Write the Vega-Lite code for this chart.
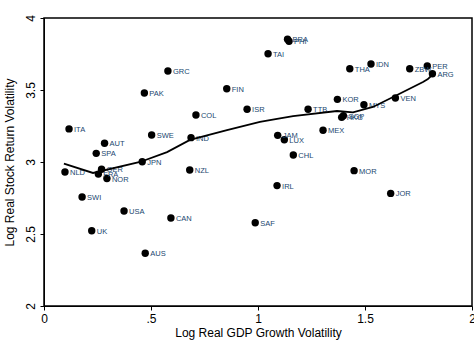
{
  "$schema": "https://vega.github.io/schema/vega-lite/v6.json",
  "width": 428,
  "height": 288,
  "autosize": "none",
  "padding": {"left": 44, "top": 18, "right": 2, "bottom": 41},
  "background": "white",
  "config": {
    "font": "Liberation Sans",
    "view": {"stroke": "black", "strokeWidth": 1.5}
  },
  "datasets": {
    "pts": [
      {"c": "NLD", "x": 0.098, "y": 2.93},
      {"c": "ITA", "x": 0.117, "y": 3.23},
      {"c": "AUT", "x": 0.283, "y": 3.13},
      {"c": "SPA", "x": 0.244, "y": 3.06},
      {"c": "GER", "x": 0.269, "y": 2.95},
      {"c": "FRA", "x": 0.254, "y": 2.916},
      {"c": "NOR", "x": 0.294, "y": 2.885},
      {"c": "SWI", "x": 0.178, "y": 2.757},
      {"c": "UK", "x": 0.223, "y": 2.523},
      {"c": "USA", "x": 0.374, "y": 2.66},
      {"c": "JPN", "x": 0.459, "y": 3.002},
      {"c": "SWE", "x": 0.503, "y": 3.188},
      {"c": "PAK", "x": 0.469, "y": 3.479},
      {"c": "GRC", "x": 0.579, "y": 3.632},
      {"c": "COL", "x": 0.71, "y": 3.326},
      {"c": "IND", "x": 0.687, "y": 3.169},
      {"c": "NZL", "x": 0.681, "y": 2.944},
      {"c": "CAN", "x": 0.593, "y": 2.611},
      {"c": "AUS", "x": 0.473, "y": 2.366},
      {"c": "FIN", "x": 0.854, "y": 3.509},
      {"c": "ISR", "x": 0.949, "y": 3.366},
      {"c": "TAI", "x": 1.047, "y": 3.752},
      {"c": "BRA", "x": 1.138, "y": 3.852},
      {"c": "PHI", "x": 1.145, "y": 3.838},
      {"c": "TTB", "x": 1.234, "y": 3.366},
      {"c": "JAM", "x": 1.092, "y": 3.185},
      {"c": "LUX", "x": 1.123, "y": 3.155},
      {"c": "CHL", "x": 1.165, "y": 3.049},
      {"c": "IRL", "x": 1.089, "y": 2.836},
      {"c": "SAF", "x": 0.987, "y": 2.578},
      {"c": "MEX", "x": 1.304, "y": 3.220},
      {"c": "KOR", "x": 1.371, "y": 3.435},
      {"c": "HKG", "x": 1.391, "y": 3.310},
      {"c": "SGP", "x": 1.399, "y": 3.321},
      {"c": "MYS", "x": 1.495, "y": 3.398},
      {"c": "VEN", "x": 1.642, "y": 3.444},
      {"c": "THA", "x": 1.429, "y": 3.648},
      {"c": "IDN", "x": 1.528, "y": 3.681},
      {"c": "ZBW", "x": 1.709, "y": 3.648},
      {"c": "PER", "x": 1.791, "y": 3.667},
      {"c": "ARG", "x": 1.815, "y": 3.613},
      {"c": "MOR", "x": 1.449, "y": 2.940},
      {"c": "JOR", "x": 1.62, "y": 2.782}
    ],
    "fit": [
      {"x": 0.093, "y": 2.988},
      {"x": 0.229, "y": 2.924},
      {"x": 0.449, "y": 3.0},
      {"x": 0.575, "y": 3.069},
      {"x": 0.682, "y": 3.153},
      {"x": 0.855, "y": 3.222},
      {"x": 1.009, "y": 3.278},
      {"x": 1.089, "y": 3.299},
      {"x": 1.164, "y": 3.319},
      {"x": 1.369, "y": 3.354},
      {"x": 1.444, "y": 3.345},
      {"x": 1.537, "y": 3.382},
      {"x": 1.65, "y": 3.465},
      {"x": 1.771, "y": 3.556},
      {"x": 1.794, "y": 3.576},
      {"x": 1.818, "y": 3.611}
    ]
  },
  "encoding": {
    "x": {
      "field": "x", "type": "quantitative",
      "scale": {"domain": [0, 2], "nice": false, "zero": false},
      "axis": {
        "title": "Log Real GDP Growth Volatility",
        "values": [0, 0.5, 1, 1.5, 2],
        "labelExpr": "datum.value == 0 ? '0' : datum.value == 0.5 ? '.5' : datum.value == 1 ? '1' : datum.value == 1.5 ? '1.5' : '2'",
        "grid": false, "domainColor": "black", "tickColor": "black",
        "tickSize": 4, "labelFontSize": 12, "labelColor": "black",
        "titleFontSize": 12, "titleFontWeight": "normal", "titleColor": "black",
        "labelPadding": 3, "titlePadding": 3, "labelFlush": false
      }
    },
    "y": {
      "field": "y", "type": "quantitative",
      "scale": {"domain": [2, 4], "nice": false, "zero": false},
      "axis": {
        "title": "Log Real Stock Return Volatility",
        "values": [2, 2.5, 3, 3.5, 4],
        "labelExpr": "datum.value == 2 ? '2' : datum.value == 2.5 ? '2.5' : datum.value == 3 ? '3' : datum.value == 3.5 ? '3.5' : '4'",
        "labelAngle": -90, "labelAlign": "center", "labelBaseline": "bottom",
        "grid": false, "domainColor": "black", "tickColor": "black",
        "tickSize": 4, "labelFontSize": 12, "labelColor": "black",
        "titleFontSize": 12, "titleFontWeight": "normal", "titleColor": "black",
        "labelPadding": 3, "titlePadding": 8, "labelFlush": false
      }
    }
  },
  "layer": [
    {
      "data": {"name": "pts"},
      "mark": {"type": "point", "filled": true, "color": "black", "opacity": 1, "size": 55}
    },
    {
      "data": {"name": "pts"},
      "mark": {"type": "text", "align": "left", "baseline": "middle", "dx": 5, "dy": 1, "fontSize": 7.5, "color": "#1a476f"},
      "encoding": {"text": {"field": "c"}}
    },
    {
      "data": {"name": "fit"},
      "mark": {"type": "line", "color": "black", "strokeWidth": 1.8},
      "encoding": {"order": {"field": "x"}}
    }
  ]
}
